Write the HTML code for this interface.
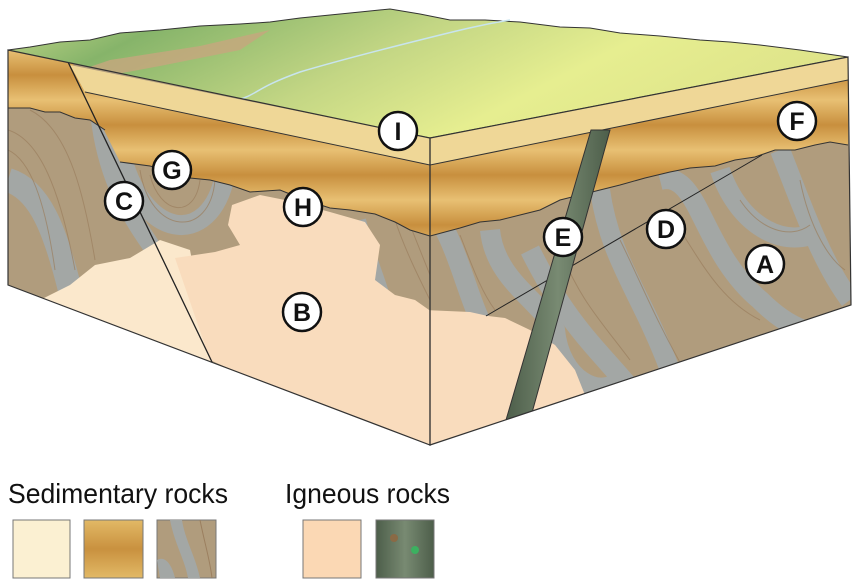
<!DOCTYPE html>
<html><head><meta charset="utf-8"><style>
html,body{margin:0;padding:0;background:#fff;width:858px;height:587px;overflow:hidden}
svg{display:block}
text{font-family:"Liberation Sans Narrow","Liberation Sans",sans-serif}
</style></head><body>
<svg width="858" height="587" viewBox="0 0 858 587" xmlns="http://www.w3.org/2000/svg">
<defs>
<linearGradient id="top" x1="0" y1="0" x2="1" y2="0.3">
<stop offset="0" stop-color="#c9d98a"/><stop offset="0.2" stop-color="#86b46a"/><stop offset="0.5" stop-color="#c3d684"/><stop offset="0.75" stop-color="#e6ee90"/><stop offset="1" stop-color="#dfe48a"/>
</linearGradient>
<linearGradient id="band" x1="0" y1="0" x2="0" y2="1" spreadMethod="repeat">
<stop offset="0" stop-color="#e2b966"/><stop offset="0.5" stop-color="#c9913f"/><stop offset="1" stop-color="#e2b966"/>
</linearGradient>
<linearGradient id="bandR" gradientUnits="userSpaceOnUse" x1="0" y1="150" x2="0" y2="200" spreadMethod="repeat">
<stop offset="0" stop-color="#e8c073"/><stop offset="0.5" stop-color="#c88f3e"/><stop offset="1" stop-color="#e8c073"/>
</linearGradient>
<linearGradient id="dike" x1="0" y1="0" x2="1" y2="0">
<stop offset="0" stop-color="#4d5e4a"/><stop offset="0.5" stop-color="#788a72"/><stop offset="1" stop-color="#4d5e4a"/>
</linearGradient>
<clipPath id="lf"><polygon points="8,50 430,138 430,445 8,285"/></clipPath>
<clipPath id="rf"><polygon points="430,138 848,57 851,305 430,445"/></clipPath>
</defs>

<polygon points="8,50 30,47 60,42 90,40 120,33 160,30 200,26 240,24 270,22 300,18 330,15 360,12 390,9 420,14 450,20 485,20 520,22 560,27 590,28 620,33 660,36 700,40 730,42 760,45 800,50 848,57 430,138 75,70" fill="url(#top)" stroke="#333" stroke-width="1"/>
<path d="M75,72 L110,60 L200,46 L270,30 L240,50 L160,66 L95,78 Z" fill="#c7a67e" opacity="0.8"/>
<path d="M230,102 C260,95 250,90 300,72 C340,60 380,50 420,40 C460,30 480,25 510,20" fill="none" stroke="#c8e4ee" stroke-width="1.5"/>

<g clip-path="url(#lf)">
<rect x="0" y="40" width="440" height="420" fill="#b09c7d"/>
<path d="M8,180 C40,190 55,230 70,290" fill="none" stroke="#a3a7a5" stroke-width="24"/>
<path d="M100,120 C110,200 150,240 160,260" fill="none" stroke="#a3a7a5" stroke-width="18"/>
<path d="M120,150 C140,240 210,250 225,175" fill="none" stroke="#a3a7a5" stroke-width="20"/>
<path d="M360,220 C370,260 380,280 385,300" fill="none" stroke="#a3a7a5" stroke-width="12"/>
<g fill="none" stroke="#9b7f5f" stroke-width="1" opacity="0.7">
<path d="M8,130 C40,140 60,190 75,270"/><path d="M8,150 C30,160 45,200 55,270"/><path d="M30,110 C70,130 85,200 95,260"/>
<path d="M150,175 C160,215 195,220 200,180"/><path d="M140,170 C150,235 210,240 215,180"/>
<path d="M395,220 C405,250 420,280 430,300"/><path d="M410,225 C420,250 428,270 432,280"/>
</g>
<path d="M8,330 L40,300 L70,285 L95,265 L130,258 L160,240 L190,250 L215,380 L8,380 Z" fill="#fbe8cc"/>
<path d="M175,258 L215,252 L240,245 L228,225 L232,205 L260,195 L285,200 L330,212 L365,222 L380,245 L375,280 L395,295 L415,300 L432,312 L432,460 L210,360 Z" fill="#f9dcbd"/>
<path d="M0,48 L72,62 L105,130 L90,120 L75,118 L60,112 L45,112 L30,108 L8,108 Z" fill="url(#bandR)"/>
<polygon points="70,65 430,138 430,165 85,92" fill="#efd797"/>
<path d="M85,92 L430,165 L430,236 L410,230 L395,222 L375,214 L350,210 L330,208 L305,200 L280,190 L250,192 L230,185 L210,180 L190,178 L170,172 L150,166 L120,162 Z" fill="url(#bandR)"/>
<line x1="85" y1="92" x2="430" y2="165" stroke="#333" stroke-width="1"/>
<path d="M120,162 L150,166 L170,172 L190,178 L210,180 L230,185 L250,192 L280,190 L305,200 L330,208 L350,210 L375,214 L395,222 L410,230 L430,236" fill="none" stroke="#333" stroke-width="1"/>
<path d="M8,108 L30,108 L45,112 L60,112 L75,118 L90,120 L105,130" fill="none" stroke="#333" stroke-width="1"/>
<line x1="68" y1="62" x2="212" y2="362" stroke="#222" stroke-width="1.3"/>
</g>

<g clip-path="url(#rf)">
<rect x="420" y="50" width="440" height="400" fill="#b09c7d"/>
<g fill="none" stroke="#a3a7a5" stroke-width="20">
<path d="M445,230 C460,260 470,300 480,320"/>
<path d="M490,230 C495,280 540,300 555,330 C560,380 600,400 620,380"/>
<path d="M600,190 C610,260 640,290 670,370"/>
<path d="M660,180 C700,170 700,250 760,300 C790,330 820,340 840,330"/>
<path d="M720,170 C740,230 790,250 820,230"/>
<path d="M780,150 C800,200 820,260 850,300"/>
<path d="M530,250 C570,330 600,350 640,400"/>
</g>
<g fill="none" stroke="#9b7f5f" stroke-width="1" opacity="0.7">
<path d="M460,235 C470,260 480,290 495,310"/><path d="M620,240 C640,280 655,320 690,380"/>
<path d="M680,230 C700,260 720,300 760,320"/><path d="M800,180 C810,230 830,260 845,270"/>
<path d="M560,250 C580,300 600,320 630,360"/><path d="M740,200 C760,230 790,240 810,225"/>
</g>
<path d="M425,310 L470,312 L488,316 L505,318 L530,330 L555,345 L575,370 L585,395 L580,425 L430,450 Z" fill="#f9dcbd"/>
<polygon points="430,138 848,57 848,80 430,165" fill="#efd797"/>
<path d="M430,165 L848,80 L848,145 L830,142 L815,145 L795,150 L775,150 L755,157 L735,160 L715,166 L690,168 L670,172 L645,178 L620,185 L600,190 L580,195 L560,200 L540,210 L520,215 L500,220 L480,222 L460,228 L430,236 Z" fill="url(#bandR)"/>
<line x1="430" y1="165" x2="848" y2="80" stroke="#333" stroke-width="1"/>
<path d="M848,145 L830,142 L815,145 L795,150 L775,150 L755,157 L735,160 L715,166 L690,168 L670,172 L645,178 L620,185 L600,190 L580,195 L560,200 L540,210 L520,215 L500,220 L480,222 L460,228 L430,236" fill="none" stroke="#333" stroke-width="1"/>
<line x1="486" y1="316" x2="762" y2="155" stroke="#222" stroke-width="1"/>
<polygon points="591,130 610,130 530,420 506,420" fill="url(#dike)" stroke="#333" stroke-width="1"/>
</g>

<polygon points="8,50 430,138 430,445 8,285" fill="none" stroke="#333" stroke-width="1.2"/>
<polygon points="430,138 848,57 851,305 430,445" fill="none" stroke="#333" stroke-width="1.2"/>

<g font-weight="bold" font-size="25" text-anchor="middle">
<g stroke="#111" stroke-width="2.5" fill="#fff">
<circle cx="398" cy="131" r="19"/><circle cx="797" cy="121" r="19"/><circle cx="172" cy="170" r="19"/>
<circle cx="124" cy="201" r="19"/><circle cx="303" cy="207" r="19"/><circle cx="563" cy="237" r="19"/>
<circle cx="666" cy="229" r="19"/><circle cx="765" cy="264" r="19"/><circle cx="302" cy="312" r="19"/>
</g>
<g fill="#111">
<text x="398" y="140">I</text><text x="797" y="130">F</text><text x="172" y="179">G</text>
<text x="124" y="210">C</text><text x="303" y="216">H</text><text x="563" y="246">E</text>
<text x="666" y="238">D</text><text x="765" y="273">A</text><text x="302" y="321">B</text>
</g>
</g>

<text x="8" y="503" font-size="28" textLength="220" lengthAdjust="spacingAndGlyphs" fill="#111">Sedimentary rocks</text>
<text x="285" y="503" font-size="28" textLength="165" lengthAdjust="spacingAndGlyphs" fill="#111">Igneous rocks</text>
<rect x="13" y="520" width="57" height="58" fill="#fbf0d2" stroke="#777"/>
<rect x="84" y="520" width="59" height="58" fill="url(#band)" stroke="#777"/>
<rect x="157" y="520" width="59" height="58" fill="#b09c7d" stroke="#777"/>
<path d="M170,520 C175,545 185,560 188,578 L200,578 C195,555 185,540 182,520 Z" fill="#a3a7a5"/>
<path d="M157,560 C165,555 172,565 175,578 L160,578 Z" fill="#a3a7a5"/>
<path d="M200,520 C205,545 210,560 212,578" fill="none" stroke="#9b7f5f"/>
<rect x="303" y="520" width="58" height="58" fill="#fbd8b4" stroke="#777"/>
<rect x="376" y="520" width="58" height="58" fill="url(#dike)" stroke="#777"/>
<circle cx="394" cy="538" r="4" fill="#8a6a45"/><circle cx="415" cy="550" r="4" fill="#3cb060"/>
</svg>
</body></html>
